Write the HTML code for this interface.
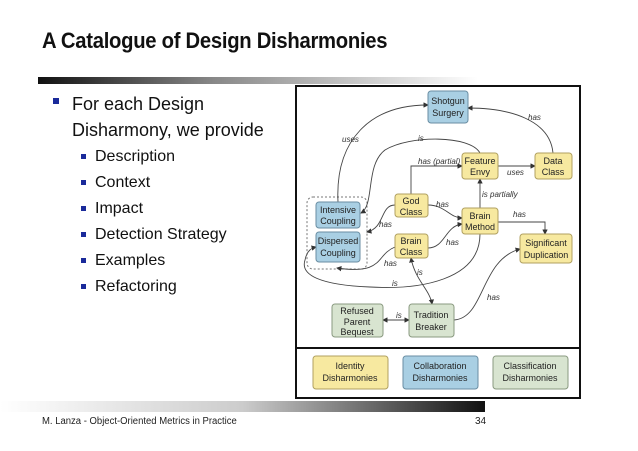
<!DOCTYPE html>
<html><head><meta charset="utf-8"><style>
html,body{margin:0;padding:0;background:#fff;width:638px;height:451px;overflow:hidden;font-family:"Liberation Sans",sans-serif}
.abs{position:absolute}
.sb{position:relative;padding-left:16px}
.sb:before{content:"";position:absolute;left:2px;top:10px;width:5px;height:5px;background:#1a2a9a}
</style></head><body>
<div class="abs" style="left:42px;top:28px;font-size:22px;font-weight:bold;color:#111;letter-spacing:-0.3px;transform:scaleX(0.92);transform-origin:left">A Catalogue of Design Disharmonies</div>
<div class="abs" style="left:38px;top:77px;width:440px;height:7px;background:linear-gradient(to right,#111,#888 40%,#fff)"></div>
<div class="abs" style="left:0;top:401px;width:485px;height:11px;background:linear-gradient(to right,#fff,#ccc 50%,#111)"></div>
<div class="abs" style="left:42px;top:416px;font-size:10px;color:#222;transform:scaleX(0.95);transform-origin:left">M. Lanza - Object-Oriented Metrics in Practice</div>
<div class="abs" style="left:475px;top:416px;font-size:10px;color:#222">34</div>
<div class="abs" style="left:53px;top:98px;width:6px;height:6px;background:#1a2a9a"></div>
<div class="abs" style="left:72px;top:91px;font-size:18px;line-height:26px;color:#111">For each Design<br>Disharmony, we provide</div>
<div class="abs" style="left:79px;top:144px;font-size:16px;line-height:26px;color:#111">
<div class="sb">Description</div><div class="sb">Context</div><div class="sb">Impact</div><div class="sb">Detection Strategy</div><div class="sb">Examples</div><div class="sb">Refactoring</div></div>
<svg class="abs" style="left:0;top:0" width="638" height="451" font-family="Liberation Sans, sans-serif">
<defs><marker id="a" markerWidth="6" markerHeight="6" refX="5" refY="3" orient="auto"><path d="M0,0L6,3L0,6z" fill="#333"/></marker>
<marker id="b" markerWidth="6" markerHeight="6" refX="1" refY="3" orient="auto"><path d="M6,0L0,3L6,6z" fill="#333"/></marker></defs>
<rect x="296" y="86" width="284" height="312" fill="#fff" stroke="#111" stroke-width="2"/>
<line x1="296" y1="348" x2="580" y2="348" stroke="#111" stroke-width="2"/>
<rect x="307" y="197" width="60" height="72" rx="6" fill="none" stroke="#777" stroke-dasharray="2,2"/>
<g fill="none" stroke="#444" stroke-width="0.9" marker-end="url(#a)">
<path d="M338,202 C335,140 370,105 428,105"/>
<path d="M480,153 C470,135 410,135 385,150 C365,165 375,205 361,213"/>
<path d="M411,194 L411,166 L462,166"/>
<path d="M498,166 L535,166"/>
<path d="M553,153 C550,120 510,108 468,108"/>
<path d="M480,208 L480,179"/>
<path d="M428,205 C445,205 450,218 462,218"/>
<path d="M395,205 C380,205 385,228 367,232"/>
<path d="M498,222 L545,222 L545,234"/>
<path d="M428,248 C445,248 445,226 462,224"/>
<path d="M395,247 C375,255 385,275 337,268"/>
<path d="M480,234 C480,280 420,290 370,287 C320,285 300,275 305,260 C307,250 312,248 316,247"/>
<path d="M411,258 C415,280 430,290 432,304" marker-start="url(#b)"/>
<path d="M454,320 C485,318 480,260 520,249"/>
<path d="M383,320 L409,320" marker-start="url(#b)"/>
</g>
<g font-size="8" font-style="italic" fill="#333">
<text x="342" y="142">uses</text><text x="418" y="141">is</text><text x="418" y="164">has (partial)</text>
<text x="507" y="175">uses</text><text x="528" y="120">has</text><text x="482" y="197">is partially</text>
<text x="436" y="207">has</text><text x="379" y="227">has</text><text x="513" y="217">has</text>
<text x="446" y="245">has</text><text x="384" y="266">has</text><text x="392" y="286">is</text>
<text x="417" y="275">is</text><text x="487" y="300">has</text><text x="396" y="318">is</text>
</g>
<g font-size="9" fill="#222" text-anchor="middle" stroke-width="1">
<rect x="428" y="91" width="40" height="32" rx="3" fill="#a9cfe3" stroke="#6a8ea3"/><text x="448" y="104">Shotgun</text><text x="448" y="116">Surgery</text>
<rect x="462" y="153" width="36" height="26" rx="3" fill="#f7e9a0" stroke="#b0a060"/><text x="480" y="164">Feature</text><text x="480" y="175">Envy</text>
<rect x="535" y="153" width="37" height="26" rx="3" fill="#f7e9a0" stroke="#b0a060"/><text x="553" y="164">Data</text><text x="553" y="175">Class</text>
<rect x="395" y="194" width="33" height="23" rx="3" fill="#f7e9a0" stroke="#b0a060"/><text x="411" y="204">God</text><text x="411" y="215">Class</text>
<rect x="462" y="208" width="36" height="26" rx="3" fill="#f7e9a0" stroke="#b0a060"/><text x="480" y="219">Brain</text><text x="480" y="230">Method</text>
<rect x="316" y="202" width="44" height="26" rx="3" fill="#a9cfe3" stroke="#6a8ea3"/><text x="338" y="213">Intensive</text><text x="338" y="224">Coupling</text>
<rect x="316" y="232" width="44" height="30" rx="3" fill="#a9cfe3" stroke="#6a8ea3"/><text x="338" y="244">Dispersed</text><text x="338" y="256">Coupling</text>
<rect x="395" y="234" width="33" height="24" rx="3" fill="#f7e9a0" stroke="#b0a060"/><text x="411" y="244">Brain</text><text x="411" y="255">Class</text>
<rect x="520" y="234" width="52" height="29" rx="3" fill="#f7e9a0" stroke="#b0a060"/><text x="546" y="246">Significant</text><text x="546" y="258">Duplication</text>
<rect x="332" y="304" width="51" height="33" rx="3" fill="#d8e4d0" stroke="#8a9a80"/><text x="357" y="314">Refused</text><text x="357" y="325">Parent</text><text x="357" y="335">Bequest</text>
<rect x="409" y="304" width="45" height="33" rx="3" fill="#d8e4d0" stroke="#8a9a80"/><text x="431" y="318">Tradition</text><text x="431" y="330">Breaker</text>
<rect x="313" y="356" width="75" height="33" rx="3" fill="#f7e9a0" stroke="#b0a060"/><text x="350" y="369">Identity</text><text x="350" y="381">Disharmonies</text>
<rect x="403" y="356" width="75" height="33" rx="3" fill="#a9cfe3" stroke="#6a8ea3"/><text x="440" y="369">Collaboration</text><text x="440" y="381">Disharmonies</text>
<rect x="493" y="356" width="75" height="33" rx="3" fill="#d8e4d0" stroke="#8a9a80"/><text x="530" y="369">Classification</text><text x="530" y="381">Disharmonies</text>
</g>
</svg>
</body></html>
